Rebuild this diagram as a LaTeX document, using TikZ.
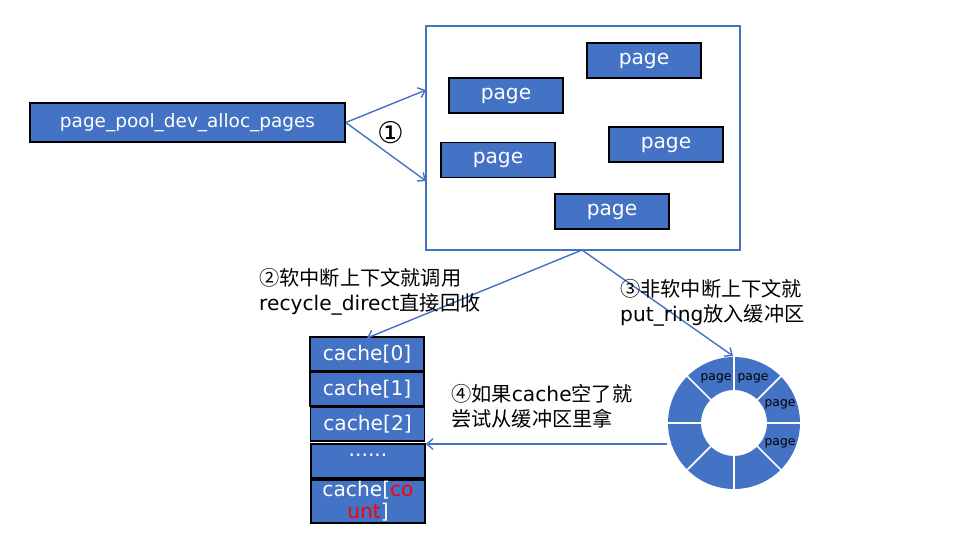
\documentclass[tikz,border=0pt]{standalone}
\usepackage{fontspec}
\setmainfont{DejaVu Sans}
\newfontfamily\cjk{Noto Sans CJK SC}
\usetikzlibrary{arrows.meta}
\definecolor{pblue}{HTML}{4472C4}
\tikzset{
  blk/.style = {draw=black, line width=0.9pt, fill=pblue, text=white, inner sep=0pt, font=\fontsize{11.5}{13}\selectfont},
  pg/.style = {blk, minimum width=2.28cm, minimum height=0.7cm},
  cell/.style = {blk, minimum width=2.28cm, minimum height=0.68cm},
  conn/.style = {draw=pblue, line width=0.8pt, -{Straight Barb[length=3.5pt,width=6pt]}},
  lbl/.style = {align=left, anchor=west, font=\fontsize{11.5}{14}\selectfont},
  rp/.style = {font=\fontsize{7}{8}\selectfont, inner sep=0pt}
}
\begin{document}
\begin{tikzpicture}[x=0.02cm,y=-0.02cm]
\useasboundingbox (0,0) rectangle (972,549);
\node[blk, minimum width=6.3cm, minimum height=0.78cm, font=\fontsize{10.5}{12}\selectfont] (alloc) at (187.5,122.5) {page\_pool\_dev\_alloc\_pages};
\node[draw=pblue, line width=0.9pt, minimum width=6.28cm, minimum height=4.48cm, inner sep=0pt] (pool) at (583,138) {};
\node[pg] (p1) at (644,60.5) {page};
\node[pg] (p2) at (506,95.5) {page};
\node[pg] (p3) at (498,160) {page};
\node[pg] (p4) at (666,144.5) {page};
\node[pg] (p5) at (612,211.5) {page};
\coordinate (in1) at (426,90);
\coordinate (in2) at (426,181);
\draw[conn] (alloc.east) -- (in1);
\draw[conn] (alloc.east) -- (in2);
\node (n1) at (391,133) {\fontsize{17}{18}\selectfont ①};
% cache stack
\node[cell] (c0) at (367,354) {cache[0]};
\node[cell] (c1) at (367,389) {cache[1]};
\node[cell] (c2) at (367.5,424) {cache[2]};
\node[cell] (c3) at (368,461) {\raisebox{1ex}{......}};
\node[blk, minimum width=2.28cm, minimum height=0.86cm, align=center, font=\fontsize{11.5}{12.5}\selectfont] (c4) at (368,501.5) {cache[\textcolor{red}{co}\\\textcolor{red}{unt}]};
% ring
\coordinate (ring) at (734,423);
\foreach \a in {0,45,...,315}
  \fill[pblue] (ring) ++(\a:1.32cm) arc[start angle=\a, end angle=\a+45, radius=1.32cm] -- ++(\a+225:0.66cm) arc[start angle=\a+45, end angle=\a, radius=0.66cm] -- cycle;
\foreach \a in {0,45,...,315}
  \draw[white, line width=1pt] (ring) ++(\a:0.6cm) -- ++(\a:0.76cm);
\node[rp] (r1) at (716,378) {page};
\node[rp] (r2) at (753,378) {page};
\node[rp] (r3) at (780,404) {page};
\node[rp] (r4) at (780,443) {page};
\coordinate (rtop) at (733,356);
\coordinate (rleft) at (667,444);
\coordinate (pbot) at (582,250);
\coordinate (ctop) at (367,338);
\draw[conn] (pbot) -- (ctop);
\draw[conn] (pbot) -- (rtop);
\draw[conn] (rleft) -- (c3.north east |- rleft);
\node[lbl] (l2) at (253,292) {{\cjk ②软中断上下文就调用}\\recycle\_direct{\cjk 直接回收}};
\node[lbl] (l3) at (614,303) {{\cjk ③非软中断上下文就}\\put\_ring{\cjk 放入缓冲区}};
\node[lbl] (l4) at (445,406) {{\cjk ④如果}cache{\cjk 空了就}\\{\cjk 尝试从缓冲区里拿}};
\end{tikzpicture}
\end{document}
